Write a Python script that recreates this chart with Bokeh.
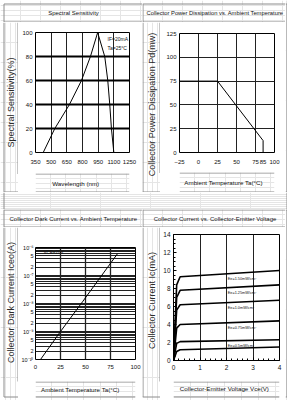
import math
from bokeh.plotting import figure
from bokeh.layouts import column, row
from bokeh.models import (Range1d, FixedTicker, SingleIntervalTicker, Label,
                          CustomJSTickFormatter)
from bokeh.embed import file_html
from bokeh.resources import INLINE

FONT = "Liberation Sans"
RULE = "#8c8c8c"
INK = "#111111"
SIDE_INK = "#2a2a2a"

# --- Spectral sensitivity (IF=20mA, Ta=25°C)
wavelength_nm = [424, 535, 675, 790, 876, 945, 1013, 1042, 1061, 1077, 1100]
sensitivity_pct = [0, 20, 40, 60, 80, 100, 80, 60, 40, 20, 0]
wl_ticks = [350, 500, 650, 800, 950, 1100, 1250]
sens_ticks = [0, 20, 40, 60, 80, 100]

# --- Collector power derating
pd_temp_c = [-25, 25, 85, 85]
pd_power_mw = [75, 75, 12.5, 0]
pd_temp_ticks = [-25, 0, 25, 50, 75, 85, 100]
pd_power_ticks = [0, 25, 50, 75, 100, 125]

# --- Collector dark current (VCE=20V)
dark_temp_c = [5, 25, 47, 82]
dark_current_a = [1.0e-10, 1.0e-9, 1.15e-8, 6.0e-7]
dark_temp_ticks = [0, 25, 50, 75, 100]
dark_tick_vals = [1e-10, 2e-10, 5e-10, 1e-9, 2e-9, 5e-9, 1e-8, 2e-8, 5e-8,
                  1e-7, 2e-7, 5e-7, 1e-6]
dark_tick_labels = ["10⁻¹⁰", "2", "5", "10⁻⁹", "2", "5", "10⁻⁸", "2", "5",
                    "10⁻⁷", "2", "5", "10⁻⁶"]
dark_decades = [1e-10, 1e-9, 1e-8, 1e-7]

# --- Output characteristics
vce_v = [0, 0.12, 0.25, 4.0]
ic_ee150 = [0, 8.4, 9.3, 10.0]
ic_ee125 = [0, 7.0, 7.8, 8.4]
ic_ee100 = [0, 5.6, 6.2, 6.7]
ic_ee075 = [0, 3.6, 4.0, 4.4]
ic_ee050 = [0, 1.9, 2.1, 2.3]
ic_ee025 = [0, 1.0, 1.2, 1.5]
ee_labels = ["Ee=1.50mW/cm²", "Ee=1.25mW/cm²", "Ee=1.0mW/cm²", "Ee=0.75mW/cm²", "Ee=0.5mW/cm²"]

# --- Headings
titles = ["Spectral Sensitivity",
          "Collector Power Dissipation vs. Ambient Temperature",
          "Collector Dark Current vs. Ambient Temperature",
          "Collector Current vs. Collector-Emitter Voltage"]
y_titles = ["Spectral Sensitivity(%)", "Collector Power Dissipation Pd(mw)",
            "Collector Dark Current Iceo(A)", "Collector Current Ic(mA)"]
x_titles = ["Wavelength (nm)", "Ambient Temperature Ta(°C)",
            "Ambient Temperature Ta(°C)", "Collector-Emitter Voltage Vce(V)"]


def style_axis(ax, standoff, size="6px"):
    ax.axis_line_color = None
    ax.major_tick_line_color = None
    ax.minor_tick_line_color = None
    ax.major_tick_in = 0
    ax.major_tick_out = 0
    ax.minor_tick_in = 0
    ax.minor_tick_out = 0
    ax.major_label_standoff = standoff
    ax.major_label_text_font = FONT
    ax.major_label_text_font_size = size
    ax.major_label_text_color = INK


def chart(w, h, border, x_range, y_range, y_axis_type="linear"):
    """A chart whose plot frame is inset by border = (left, top, right, bottom) pixels."""
    l, t, r, b = border
    p = figure(width=w, height=h, x_range=x_range, y_range=y_range, y_axis_type=y_axis_type,
               min_border_left=l, min_border_top=t, min_border_right=r, min_border_bottom=b,
               output_backend="svg", toolbar_location=None)
    p.title.visible = False
    p.outline_line_color = "black"
    p.outline_line_width = 1
    p.background_fill_color = "white"
    p.border_fill_color = "white"
    style_axis(p.xaxis[0], 7)
    style_axis(p.yaxis[0], 3)
    return p


def tile(w, h, hlines=(), vlines=(), texts=()):
    """A piece of the sheet's ruling; coordinates are the tile's own pixels."""
    t = figure(width=w, height=h, x_range=Range1d(0, w), y_range=Range1d(h, 0),
               x_axis_location=None, y_axis_location=None, min_border=0,
               output_backend="svg", toolbar_location=None)
    t.title.visible = False
    t.outline_line_color = None
    t.background_fill_color = "white"
    t.border_fill_color = "white"
    if hlines:
        t.segment(x0=[a for _, a, _ in hlines], x1=[b for _, _, b in hlines],
                  y0=[y for y, _, _ in hlines], y1=[y for y, _, _ in hlines],
                  line_color=RULE, line_width=1)
    if vlines:
        t.segment(x0=[x for x, _, _ in vlines], x1=[x for x, _, _ in vlines],
                  y0=[a for _, a, _ in vlines], y1=[b for _, _, b in vlines],
                  line_color=RULE, line_width=1)
    for x, y, s, size, angle in texts:
        t.add_layout(Label(x=x, y=y, text=s, text_font=FONT, text_font_size=f"{size}px",
                           text_align="center", text_baseline="middle", angle=angle,
                           text_color=SIDE_INK if angle else INK))
    return t


def note(p, x, y, s, size, units="data"):
    p.add_layout(Label(x=x, y=y, x_units=units, y_units=units, text=s, text_font=FONT,
                       text_font_size=f"{size}px", text_align="left",
                       text_baseline="middle", text_color=INK))


UP = math.pi / 2

# ---------------- Spectral Sensitivity ----------------
p1 = chart(124, 151, (17, 10, 13, 21), Range1d(350, 1250), Range1d(0, 100))
p1.xaxis.ticker = FixedTicker(ticks=wl_ticks)
p1.yaxis.ticker = FixedTicker(ticks=sens_ticks)
p1.xgrid.ticker = FixedTicker(ticks=wl_ticks)
p1.xgrid.grid_line_color = "#222222"
p1.xgrid.grid_line_width = 1
p1.ygrid.ticker = FixedTicker(ticks=sens_ticks)
p1.ygrid.grid_line_color = "black"
p1.ygrid.grid_line_width = 1.8
p1.line(wavelength_nm, sensitivity_pct, line_color="black", line_width=1)
note(p1, 1040, 95, "IF=20mA", 5)
note(p1, 1040, 87.5, "Ta=25°C", 5)

# ---------------- Collector Power Dissipation ----------------
p2 = chart(125, 150, (19, 11, 11, 20), Range1d(-25, 100), Range1d(0, 125))
p2.xaxis.ticker = FixedTicker(ticks=pd_temp_ticks)
p2.yaxis.ticker = FixedTicker(ticks=pd_power_ticks)
p2.xgrid.ticker = FixedTicker(ticks=[0, 25, 50, 75])
p2.ygrid.ticker = FixedTicker(ticks=[25, 50, 75, 100])
for gr in (p2.xgrid, p2.ygrid):
    gr.grid_line_color = "#222222"
    gr.grid_line_width = 1
p2.line(pd_temp_c, pd_power_mw, line_color="black", line_width=1)

# ---------------- Collector Dark Current ----------------
p3 = chart(124, 154, (17, 20, 7, 22), Range1d(0, 100), Range1d(1e-10, 1e-6), y_axis_type="log")
p3.xaxis.ticker = FixedTicker(ticks=dark_temp_ticks)
p3.xaxis.major_label_standoff = 5
p3.yaxis.ticker = FixedTicker(ticks=dark_tick_vals)
p3.yaxis.formatter = CustomJSTickFormatter(
    args=dict(vals=dark_tick_vals, labs=dark_tick_labels),
    code="""
    let best = 0, err = Infinity;
    for (let i = 0; i < vals.length; i++) {
        const e = Math.abs(Math.log10(vals[i]) - Math.log10(tick));
        if (e < err) { err = e; best = i; }
    }
    return labs[best];
""")
p3.yaxis.major_label_standoff = 2
p3.yaxis.major_label_text_font_size = "5.5px"
p3.xgrid.ticker = FixedTicker(ticks=[25, 50, 75])
p3.xgrid.grid_line_color = "#222222"
p3.xgrid.grid_line_width = 1.3
p3.ygrid.ticker = FixedTicker(ticks=[k * d for d in dark_decades for k in range(1, 10)])
p3.ygrid.grid_line_color = "#222222"
p3.ygrid.grid_line_width = 1.2
p3.line(dark_temp_c, dark_current_a, line_color="black", line_width=1)
note(p3, 8, 107, "VCE=20V", 4.5, units="screen")

# ---------------- Collector Current vs VCE ----------------
p4 = chart(125, 154, (13, 7, 6, 21), Range1d(0, 4), Range1d(0, 14))
p4.xaxis.ticker = SingleIntervalTicker(interval=1, num_minor_ticks=5)
p4.yaxis.ticker = SingleIntervalTicker(interval=2, num_minor_ticks=4)
for ax in (p4.xaxis[0], p4.yaxis[0]):
    ax.major_tick_line_color = "black"
    ax.minor_tick_line_color = "black"
    ax.major_tick_in = 3
    ax.minor_tick_in = 2
    ax.major_label_text_font_size = "6.5px"
p4.xaxis.major_label_standoff = 4
p4.xgrid.ticker = FixedTicker(ticks=[1, 2, 3])
p4.xgrid.grid_line_color = "#222222"
p4.xgrid.grid_line_width = 1
p4.ygrid.grid_line_color = None
curves = [ic_ee150, ic_ee125, ic_ee100, ic_ee075, ic_ee050, ic_ee025]
for ic in curves:
    p4.line(vce_v, ic, line_color="black", line_width=1.6)
for ic, lab in zip(curves, ee_labels):
    # each label sits just under its own curve, starting near VCE = 2 V
    y_at = ic[2] + (ic[3] - ic[2]) * (2.6 - vce_v[2]) / (vce_v[3] - vce_v[2])
    p4.add_layout(Label(x=2.05, y=y_at, y_offset=-4, text=lab, text_font=FONT,
                        text_font_size="3.8px", text_align="left", text_baseline="top",
                        text_color=INK))

# ---------------- sheet ruling: tiles around the charts ----------------
T1 = tile(142, 22, hlines=[(3.5, 3.5, 142), (21.5, 3.5, 142)], vlines=[(3.5, 3.5, 22)],
          texts=[(73, 12.5, titles[0], 6, 0)])
Y1 = tile(18, 170, hlines=[(169.5, 3.5, 18)], vlines=[(3.5, 0, 169.5), (17.5, 0, 151.5)],
          texts=[(10.5, 80, y_titles[0], 9, UP)])
X1 = tile(124, 19, hlines=[(0.5, 0, 124), (18.5, 0, 124)],
          texts=[(53, 9.5, x_titles[0], 6.2, 0)])

T2 = tile(143, 22, hlines=[(3.5, 0, 143), (21.5, 0, 143)], vlines=[(0.5, 3.5, 22)],
          texts=[(72.5, 12.5, titles[1], 5.8, 0)])
Y2 = tile(18, 170, hlines=[(169.5, 0, 18)], vlines=[(0.5, 0, 169.5), (17.5, 0, 150.5)],
          texts=[(9.5, 82, y_titles[1], 9, UP)])
X2 = tile(125, 20, hlines=[(0.5, 0, 125), (19.5, 0, 125)],
          texts=[(58, 10, x_titles[1], 6.2, 0)])
E1 = tile(2, 192, hlines=[(3.5, 0, 1.5), (191.5, 0, 1.5)], vlines=[(1.5, 3.5, 192)])

GAP = tile(287, 17, vlines=[(3.5, 0, 17), (286.5, 0, 17)])

T3 = tile(142, 18, hlines=[(0.5, 3.5, 142), (17.5, 3.5, 142)], vlines=[(3.5, 0, 18)],
          texts=[(73, 9, titles[2], 6, 0)])
Y3 = tile(18, 173, hlines=[(169.5, 3.5, 18)], vlines=[(3.5, 0, 169.5), (17.5, 0, 154)],
          texts=[(10.5, 75, y_titles[2], 9, UP)])
X3 = tile(124, 19, hlines=[(0.5, 0, 124), (15.5, 0, 124)],
          texts=[(55.5, 8, x_titles[2], 6.2, 0)])

T4 = tile(143, 18, hlines=[(0.5, 0, 143), (17.5, 0, 143)], vlines=[(0.5, 0, 18)],
          texts=[(72.5, 9, titles[3], 6, 0)])
Y4 = tile(18, 173, hlines=[(169.5, 0, 18)], vlines=[(0.5, 0, 169.5), (17.5, 0, 154)],
          texts=[(9.5, 73, y_titles[3], 9, UP)])
X4 = tile(125, 19, hlines=[(0.5, 0, 125), (15.5, 0, 125)],
          texts=[(60, 7, x_titles[3], 6.2, 0)])
E2 = tile(2, 191, hlines=[(0.5, 0, 1.5), (187.5, 0, 1.5)], vlines=[(1.5, 0, 187.5)])

top = row(column(T1, row(Y1, column(p1, X1))),
          column(T2, row(Y2, column(p2, X2))), E1)
bottom = row(column(T3, row(Y3, column(p3, X3))),
             column(T4, row(Y4, column(p4, X4))), E2)
page = column(top, GAP, bottom)
open("out.html", "w").write(file_html(page, INLINE))
